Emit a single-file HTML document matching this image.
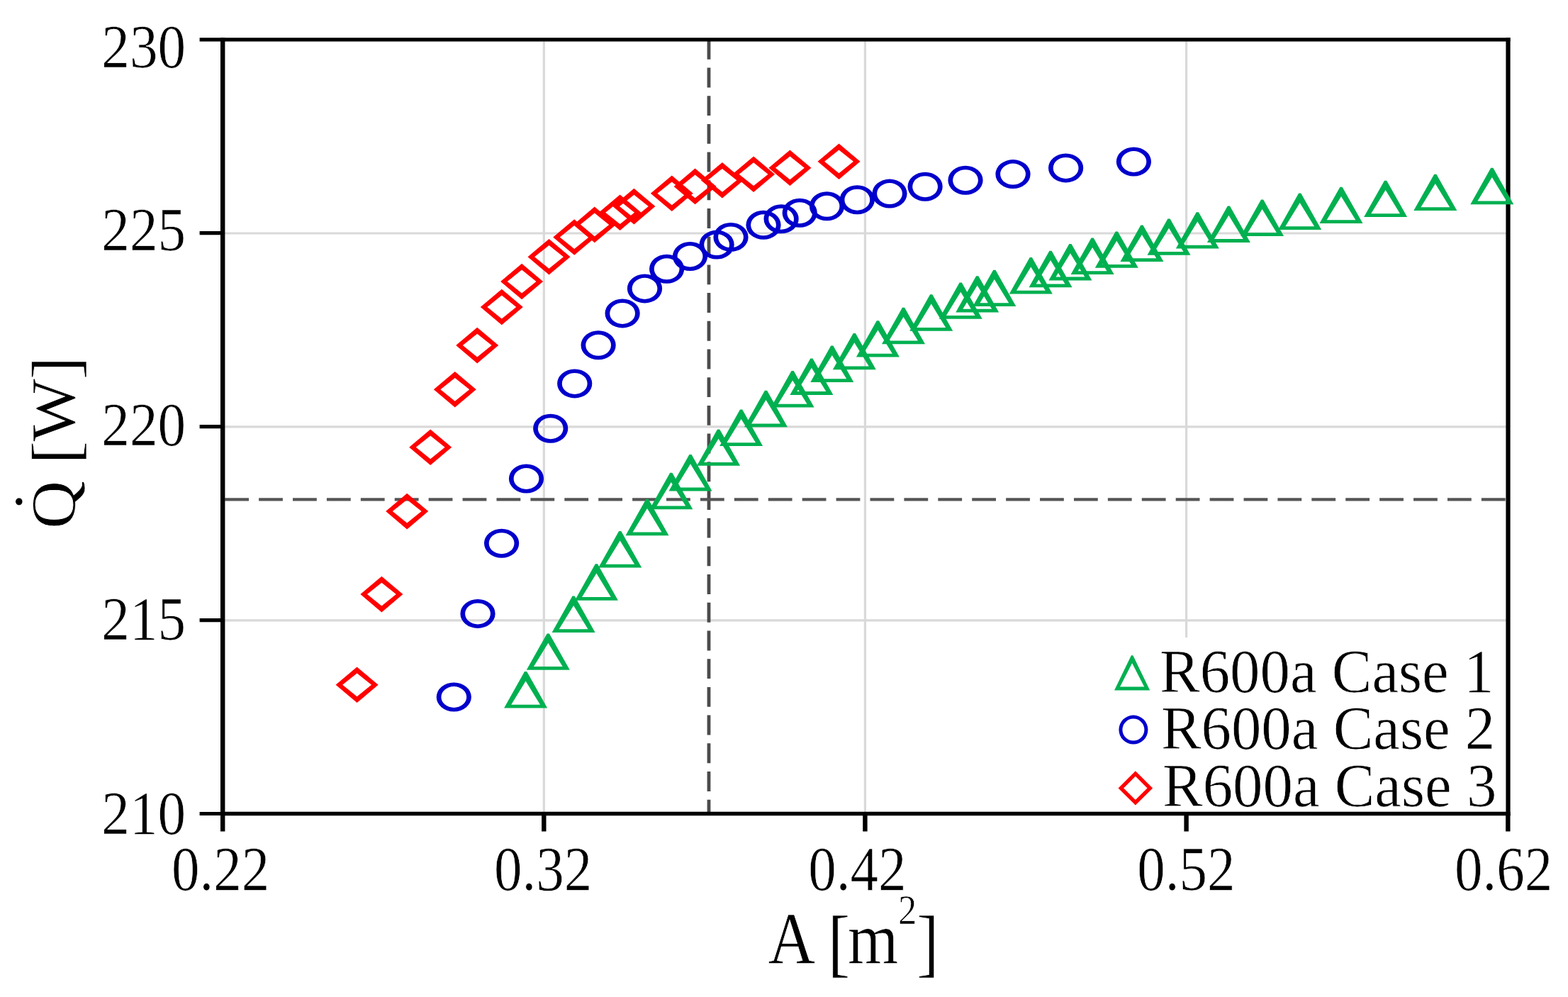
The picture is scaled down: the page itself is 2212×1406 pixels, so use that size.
<!DOCTYPE html>
<html><head><meta charset="utf-8"><title>Q vs A</title>
<style>html,body{margin:0;padding:0;background:#fff;}svg{display:block;}text{font-family:"Liberation Serif","Times New Roman",serif;fill:#000;stroke:#fff;stroke-width:0.7px;}</style></head><body>
<svg width="2212" height="1406" viewBox="0 0 2212 1406">
<rect width="2212" height="1406" fill="#fff"/>
<path d="M767.3 55.8V1147.5M1220.4 55.8V1147.5M1673.6 55.8V1147.5M314.2 329H2127.5M314.2 601.9H2127.5M314.2 874.9H2127.5" stroke="#d9d9d9" stroke-width="3.2" fill="none"/>
<path d="M1000 55.8V1147.5" stroke="#4b4b4b" stroke-width="4.8" stroke-dasharray="27.9 11.8" fill="none"/>
<path d="M317.2 704.4H2127.5" stroke="#555" stroke-width="4.2" stroke-dasharray="33.8 14.11" fill="none"/>
<rect x="1547" y="899" width="580" height="248" fill="#fff"/>
<path d="M314.2 53.3V1150.2" stroke="#000" stroke-width="6.4"/><path d="M2127.5 53.3V1150.2" stroke="#000" stroke-width="6.2"/><path d="M311.2 55.8H2130.5" stroke="#000" stroke-width="5.2"/><path d="M311.2 1147.5H2130.5" stroke="#000" stroke-width="5.4"/>
<path d="M281.6 55.8H314.2M281.6 328.7H314.2M281.6 601.6H314.2M281.6 874.6H314.2M281.6 1147.5H314.2" stroke="#000" stroke-width="5.2"/>
<path d="M314.2 1147.5V1172.5M767.3 1147.5V1172.5M1220.4 1147.5V1172.5M1673.6 1147.5V1172.5M2127.3 1147.5V1172.5" stroke="#000" stroke-width="6.4"/>
<path fill="#ff0000" fill-rule="nonzero" d="M503.6 940.5L533.6 965.8L503.6 991.1L473.6 965.8ZM503.6 949.4L483.2 965.8L503.6 982.2L524 965.8ZM538.4 812.8L568.4 838.1L538.4 863.4L508.4 838.1ZM538.4 821.7L518 838.1L538.4 854.5L558.8 838.1ZM574.2 695.8L604.2 721.1L574.2 746.4L544.2 721.1ZM574.2 704.7L553.8 721.1L574.2 737.5L594.6 721.1ZM607.2 605.5L637.2 630.8L607.2 656.1L577.2 630.8ZM607.2 614.4L586.8 630.8L607.2 647.2L627.6 630.8ZM641.8 524L671.8 549.3L641.8 574.6L611.8 549.3ZM641.8 532.9L621.4 549.3L641.8 565.7L662.2 549.3ZM673.2 461.8L703.2 487.1L673.2 512.4L643.2 487.1ZM673.2 470.7L652.8 487.1L673.2 503.5L693.6 487.1ZM707.8 407.7L737.8 433L707.8 458.3L677.8 433ZM707.8 416.6L687.4 433L707.8 449.4L728.2 433ZM736.1 371.7L766.1 397L736.1 422.3L706.1 397ZM736.1 380.6L715.7 397L736.1 413.4L756.5 397ZM774.5 337L804.5 362.3L774.5 387.6L744.5 362.3ZM774.5 345.9L754.1 362.3L774.5 378.7L794.9 362.3ZM810.2 309.2L840.2 334.5L810.2 359.8L780.2 334.5ZM810.2 318.1L789.8 334.5L810.2 350.9L830.6 334.5ZM838.8 291.6L868.8 316.9L838.8 342.2L808.8 316.9ZM838.8 300.5L818.4 316.9L838.8 333.3L859.2 316.9ZM874.6 274.4L904.6 299.7L874.6 325L844.6 299.7ZM874.6 283.3L854.2 299.7L874.6 316.1L895 299.7ZM894.4 265.8L924.4 291.1L894.4 316.4L864.4 291.1ZM894.4 274.7L874 291.1L894.4 307.5L914.8 291.1ZM947.8 247.5L977.8 272.8L947.8 298.1L917.8 272.8ZM947.8 256.4L927.4 272.8L947.8 289.2L968.2 272.8ZM980.6 237.6L1010.6 262.9L980.6 288.2L950.6 262.9ZM980.6 246.5L960.2 262.9L980.6 279.3L1001 262.9ZM1018.9 229L1048.9 254.3L1018.9 279.6L988.9 254.3ZM1018.9 237.9L998.5 254.3L1018.9 270.7L1039.3 254.3ZM1063.1 220.4L1093.1 245.7L1063.1 271L1033.1 245.7ZM1063.1 229.3L1042.7 245.7L1063.1 262.1L1083.5 245.7ZM1114.4 211.5L1144.4 236.8L1114.4 262.1L1084.4 236.8ZM1114.4 220.4L1094 236.8L1114.4 253.2L1134.8 236.8ZM1183.5 202.5L1213.5 227.8L1183.5 253.1L1153.5 227.8ZM1183.5 211.4L1163.1 227.8L1183.5 244.2L1203.9 227.8Z"/>
<path fill="#0000cc" fill-rule="nonzero" d="M615.7 983a24.6 20.5 0 1 1 49.2 0a24.6 20.5 0 1 1 -49.2 0ZM622.4 983a17.9 15 0 1 0 35.8 0a17.9 15 0 1 0 -35.8 0ZM649.4 865.4a24.6 20.5 0 1 1 49.2 0a24.6 20.5 0 1 1 -49.2 0ZM656.1 865.4a17.9 15 0 1 0 35.8 0a17.9 15 0 1 0 -35.8 0ZM683 766.2a24.6 20.5 0 1 1 49.2 0a24.6 20.5 0 1 1 -49.2 0ZM689.7 766.2a17.9 15 0 1 0 35.8 0a17.9 15 0 1 0 -35.8 0ZM717.9 675a24.6 20.5 0 1 1 49.2 0a24.6 20.5 0 1 1 -49.2 0ZM724.6 675a17.9 15 0 1 0 35.8 0a17.9 15 0 1 0 -35.8 0ZM752.1 604.2a24.6 20.5 0 1 1 49.2 0a24.6 20.5 0 1 1 -49.2 0ZM758.8 604.2a17.9 15 0 1 0 35.8 0a17.9 15 0 1 0 -35.8 0ZM786.1 540.9a24.6 20.5 0 1 1 49.2 0a24.6 20.5 0 1 1 -49.2 0ZM792.8 540.9a17.9 15 0 1 0 35.8 0a17.9 15 0 1 0 -35.8 0ZM819.5 486.8a24.6 20.5 0 1 1 49.2 0a24.6 20.5 0 1 1 -49.2 0ZM826.2 486.8a17.9 15 0 1 0 35.8 0a17.9 15 0 1 0 -35.8 0ZM853.5 441.9a24.6 20.5 0 1 1 49.2 0a24.6 20.5 0 1 1 -49.2 0ZM860.2 441.9a17.9 15 0 1 0 35.8 0a17.9 15 0 1 0 -35.8 0ZM884.9 406.9a24.6 20.5 0 1 1 49.2 0a24.6 20.5 0 1 1 -49.2 0ZM891.6 406.9a17.9 15 0 1 0 35.8 0a17.9 15 0 1 0 -35.8 0ZM916 379.3a24.6 20.5 0 1 1 49.2 0a24.6 20.5 0 1 1 -49.2 0ZM922.7 379.3a17.9 15 0 1 0 35.8 0a17.9 15 0 1 0 -35.8 0ZM948.9 361.5a24.6 20.5 0 1 1 49.2 0a24.6 20.5 0 1 1 -49.2 0ZM955.6 361.5a17.9 15 0 1 0 35.8 0a17.9 15 0 1 0 -35.8 0ZM986.5 345.1a24.6 20.5 0 1 1 49.2 0a24.6 20.5 0 1 1 -49.2 0ZM993.2 345.1a17.9 15 0 1 0 35.8 0a17.9 15 0 1 0 -35.8 0ZM1006.4 334.4a24.6 20.5 0 1 1 49.2 0a24.6 20.5 0 1 1 -49.2 0ZM1013.1 334.4a17.9 15 0 1 0 35.8 0a17.9 15 0 1 0 -35.8 0ZM1052.4 317.3a24.6 20.5 0 1 1 49.2 0a24.6 20.5 0 1 1 -49.2 0ZM1059.1 317.3a17.9 15 0 1 0 35.8 0a17.9 15 0 1 0 -35.8 0ZM1077.5 308.7a24.6 20.5 0 1 1 49.2 0a24.6 20.5 0 1 1 -49.2 0ZM1084.2 308.7a17.9 15 0 1 0 35.8 0a17.9 15 0 1 0 -35.8 0ZM1103.6 300.2a24.6 20.5 0 1 1 49.2 0a24.6 20.5 0 1 1 -49.2 0ZM1110.3 300.2a17.9 15 0 1 0 35.8 0a17.9 15 0 1 0 -35.8 0ZM1141.9 290.8a24.6 20.5 0 1 1 49.2 0a24.6 20.5 0 1 1 -49.2 0ZM1148.6 290.8a17.9 15 0 1 0 35.8 0a17.9 15 0 1 0 -35.8 0ZM1184.7 281.7a24.6 20.5 0 1 1 49.2 0a24.6 20.5 0 1 1 -49.2 0ZM1191.4 281.7a17.9 15 0 1 0 35.8 0a17.9 15 0 1 0 -35.8 0ZM1230.4 273.1a24.6 20.5 0 1 1 49.2 0a24.6 20.5 0 1 1 -49.2 0ZM1237.1 273.1a17.9 15 0 1 0 35.8 0a17.9 15 0 1 0 -35.8 0ZM1280.5 263.2a24.6 20.5 0 1 1 49.2 0a24.6 20.5 0 1 1 -49.2 0ZM1287.2 263.2a17.9 15 0 1 0 35.8 0a17.9 15 0 1 0 -35.8 0ZM1337.4 254.2a24.6 20.5 0 1 1 49.2 0a24.6 20.5 0 1 1 -49.2 0ZM1344.1 254.2a17.9 15 0 1 0 35.8 0a17.9 15 0 1 0 -35.8 0ZM1404.4 245.6a24.6 20.5 0 1 1 49.2 0a24.6 20.5 0 1 1 -49.2 0ZM1411.1 245.6a17.9 15 0 1 0 35.8 0a17.9 15 0 1 0 -35.8 0ZM1479 236.9a24.6 20.5 0 1 1 49.2 0a24.6 20.5 0 1 1 -49.2 0ZM1485.7 236.9a17.9 15 0 1 0 35.8 0a17.9 15 0 1 0 -35.8 0ZM1574.8 228a24.6 20.5 0 1 1 49.2 0a24.6 20.5 0 1 1 -49.2 0ZM1581.5 228a17.9 15 0 1 0 35.8 0a17.9 15 0 1 0 -35.8 0Z"/>
<path fill="#00b050" fill-rule="nonzero" d="M740 947.1H743.2L772.1 998.5H711.1ZM741.6 960.4L721.2 993.7H762ZM771.7 893.4H774.9L803.8 944.8H742.8ZM773.3 906.7L752.9 940H793.7ZM807.5 840.6H810.7L839.6 892H778.6ZM809.1 853.9L788.7 887.2H829.5ZM839.8 795.3H843L871.9 846.7H810.9ZM841.4 808.6L821 841.9H861.8ZM873.1 749.1H876.3L905.2 800.5H844.2ZM874.7 762.4L854.3 795.7H895.1ZM911.4 703.8H914.6L943.5 755.2H882.5ZM913 717.1L892.6 750.4H933.4ZM945.2 666.8H948.4L977.3 718.2H916.3ZM946.8 680.1L926.4 713.4H967.2ZM972.4 641H975.6L1004.5 692.4H943.5ZM974 654.3L953.6 687.6H994.4ZM1012 605.4H1015.2L1044.1 656.8H983.1ZM1013.6 618.7L993.2 652H1034ZM1044 577.6H1047.2L1076.1 629H1015.1ZM1045.6 590.9L1025.2 624.2H1066ZM1078.9 550.8H1082.1L1111 602.2H1050ZM1080.5 564.1L1060.1 597.4H1100.9ZM1116.5 523.1H1119.7L1148.6 574.5H1087.6ZM1118.1 536.4L1097.7 569.7H1138.5ZM1143.3 505.5H1146.5L1175.4 556.9H1114.4ZM1144.9 518.8L1124.5 552.1H1165.3ZM1172.2 487.6H1175.4L1204.3 539H1143.3ZM1173.8 500.9L1153.4 534.2H1194.2ZM1203.7 469.9H1206.9L1235.8 521.3H1174.8ZM1205.3 483.2L1184.9 516.5H1225.7ZM1236.8 452.2H1240L1268.9 503.6H1207.9ZM1238.4 465.5L1218 498.8H1258.8ZM1272.9 433.8H1276.1L1305 485.2H1244ZM1274.5 447.1L1254.1 480.4H1294.9ZM1312.1 415.3H1315.3L1344.2 466.7H1283.2ZM1313.7 428.6L1293.3 461.9H1334.1ZM1353.6 398.4H1356.8L1385.7 449.8H1324.7ZM1355.2 411.7L1334.8 445H1375.6ZM1377.1 389.2H1380.3L1409.2 440.6H1348.2ZM1378.7 402.5L1358.3 435.8H1399.1ZM1401.2 380.7H1404.4L1433.3 432.1H1372.3ZM1402.8 394L1382.4 427.3H1423.2ZM1452.7 363.1H1455.9L1484.8 414.5H1423.8ZM1454.3 376.4L1433.9 409.7H1474.7ZM1480.4 353.8H1483.6L1512.5 405.2H1451.5ZM1482 367.1L1461.6 400.4H1502.4ZM1508.3 344H1511.5L1540.4 395.4H1479.4ZM1509.9 357.3L1489.5 390.6H1530.3ZM1539.5 335.6H1542.7L1571.6 387H1510.6ZM1541.1 348.9L1520.7 382.2H1561.5ZM1573.7 326.4H1576.9L1605.8 377.8H1544.8ZM1575.3 339.7L1554.9 373H1595.7ZM1609.3 317.6H1612.5L1641.4 369H1580.4ZM1610.9 330.9L1590.5 364.2H1631.3ZM1647.4 308.4H1650.6L1679.5 359.8H1618.5ZM1649 321.7L1628.6 355H1669.4ZM1687.7 299.2H1690.9L1719.8 350.6H1658.8ZM1689.3 312.5L1668.9 345.8H1709.7ZM1731.8 290.5H1735L1763.9 341.9H1702.9ZM1733.4 303.8L1713 337.1H1753.8ZM1779 281.6H1782.2L1811.1 333H1750.1ZM1780.6 294.9L1760.2 328.2H1801ZM1832.1 272.6H1835.3L1864.2 324H1803.2ZM1833.7 285.9L1813.3 319.2H1854.1ZM1890.4 263.7H1893.6L1922.5 315.1H1861.5ZM1892 277L1871.6 310.3H1912.4ZM1953 254.7H1956.2L1985.1 306.1H1924.1ZM1954.6 268L1934.2 301.3H1975ZM2023.2 245.7H2026.4L2055.3 297.1H1994.3ZM2024.8 259L2004.4 292.3H2045.2ZM2103.2 236.8H2106.4L2135.3 288.2H2074.3ZM2104.8 250.1L2084.4 283.4H2125.2Z"/>
<text transform="scale(0.9045 1)" x="158.5" y="94.6" font-size="87.55">230</text>
<text transform="scale(0.9045 1)" x="158.5" y="353" font-size="87.55">225</text>
<text transform="scale(0.9045 1)" x="158.5" y="627.6" font-size="87.55">220</text>
<text transform="scale(0.9045 1)" x="158.5" y="902.1" font-size="87.55">215</text>
<text transform="scale(0.9045 1)" x="158.5" y="1176.3" font-size="87.55">210</text>
<text transform="scale(0.8927 1)" x="271" y="1254.9" font-size="88.55">0.22</text>
<text transform="scale(0.8927 1)" x="780.7" y="1254.9" font-size="88.55">0.32</text>
<text transform="scale(0.8927 1)" x="1277.3" y="1254.9" font-size="88.55">0.42</text>
<text transform="scale(0.8927 1)" x="1797" y="1254.9" font-size="88.55">0.52</text>
<text transform="scale(0.8927 1)" x="2298.7" y="1254.9" font-size="88.55">0.62</text>
<text transform="scale(0.889 1)" y="1359.3" font-size="103.1" xml:space="preserve"><tspan x="1219.2">A </tspan><tspan x="1313.7" y="1365.3" font-size="106.5">[</tspan><tspan x="1345.4" y="1359.3">m</tspan><tspan x="1425.3" y="1302.8" font-size="59.1">2</tspan><tspan x="1454.6" y="1365.3" font-size="106.5">]</tspan></text>
<text transform="translate(104.8 745) rotate(-90) scale(1.055 1)" y="0" font-size="89.1" xml:space="preserve"><tspan x="-0.6">Q</tspan><tspan x="19.5" y="-18.6" font-size="97">&#x2D9; </tspan><tspan x="85.5" y="4.9" font-size="93.4">[</tspan><tspan x="115.8" y="0" font-size="89.1">W</tspan><tspan x="198.5" y="4.9" font-size="93.4">]</tspan></text>
<text transform="scale(0.974 1)" x="1679.8" y="976.5" font-size="87.1">R600a Case 1</text>
<text transform="scale(0.974 1)" x="1681.7" y="1056.5" font-size="87.1">R600a Case 2</text>
<text transform="scale(0.974 1)" x="1683.9" y="1136.8" font-size="87.1">R600a Case 3</text>
<path fill="#00b050" fill-rule="nonzero" d="M1595.9 924.2H1598.3L1622.2 973.5H1572ZM1597.1 935.2L1580 968.6H1614.2Z"/>
<path fill="#0000cc" fill-rule="nonzero" d="M1578.4 1029.1a20.5 20.5 0 1 1 41 0a20.5 20.5 0 1 1 -41 0ZM1583.4 1029.1a15.5 15.5 0 1 0 31 0a15.5 15.5 0 1 0 -31 0Z"/>
<path fill="#ff0000" fill-rule="nonzero" d="M1601.8 1087.2L1626.1 1111.4L1601.8 1135.6L1577.5 1111.4ZM1601.8 1094.7L1585.1 1111.4L1601.8 1128.1L1618.5 1111.4Z"/>
</svg></body></html>
